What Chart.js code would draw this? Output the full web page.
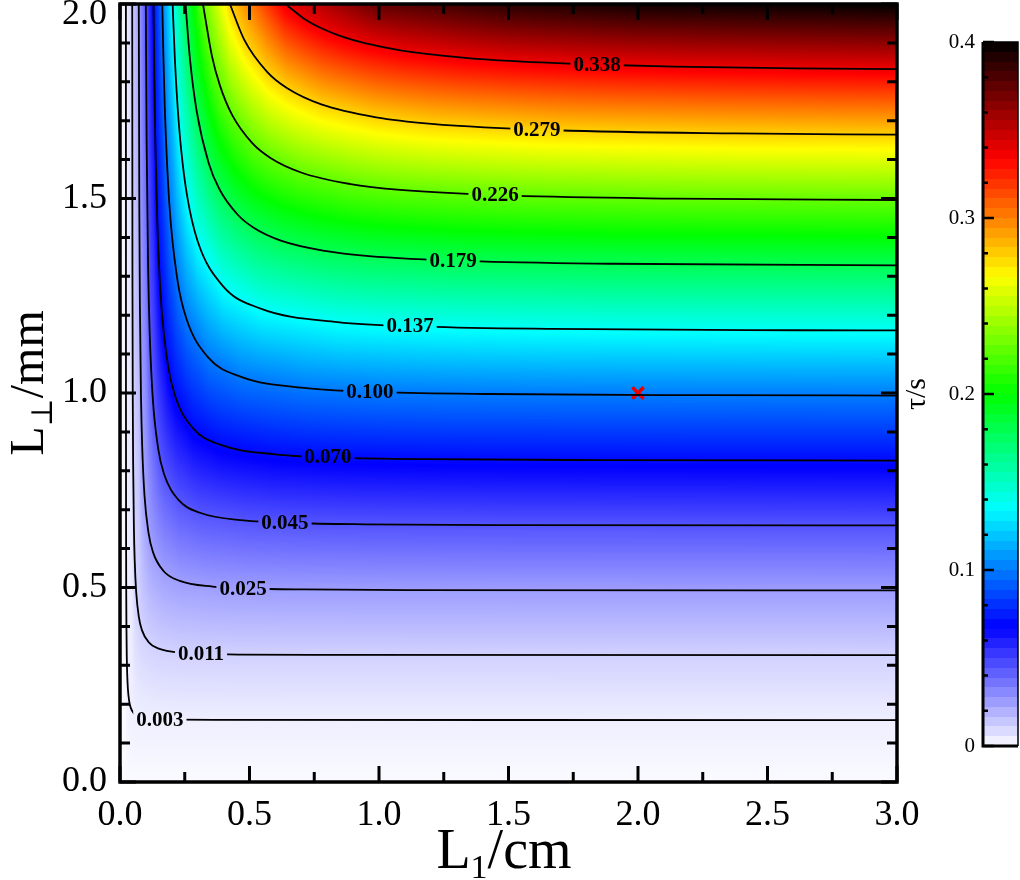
<!DOCTYPE html>
<html><head><meta charset="utf-8">
<script src="https://cdn.jsdelivr.net/npm/chart.js"></script>
<style>
html,body{margin:0;padding:0;background:#fff;}
#wrap{position:relative;width:1020px;height:880px;overflow:hidden;background:#fff;}
#main{position:absolute;left:0;top:0;}
#cbar{position:absolute;left:895px;top:0;}
</style></head><body>
<div id="wrap"><canvas id="main" width="1020" height="880"></canvas><canvas id="cbar" width="125" height="880"></canvas></div>
<script>
const FONT = "'Liberation Serif','Times New Roman','DejaVu Serif',serif";

// ---- contour levels (tau, s) and their labels ----
const levels = [0.003, 0.011, 0.025, 0.045, 0.070, 0.100, 0.137, 0.179, 0.226, 0.279, 0.338];
const levelLabels = ['0.003','0.011','0.025','0.045','0.070','0.100','0.137','0.179','0.226','0.279','0.338'];

// ---- contour lines: L1 (cm) and L_perp (mm) ----
const c003x = [0.02283, 0.02308, 0.02350, 0.02414, 0.02483, 0.02628, 0.02773, 0.03053, 0.03562, 0.04117, 0.05463, 0.07464, 0.11549, 0.16212, 0.22842, 0.36024, 3.0];
const c003y = [2.0, 0.9558, 0.6372, 0.4779, 0.3983, 0.3186, 0.2788, 0.2390, 0.2071, 0.1912, 0.1752, 0.1673, 0.1625, 0.1609, 0.1601, 0.1596, 0.1593];
const c011x = [0.04719, 0.04722, 0.04808, 0.04938, 0.05080, 0.05376, 0.05673, 0.06246, 0.07286, 0.08423, 0.11176, 0.15269, 0.23626, 0.33167, 0.46731, 0.73700, 3.0];
const c011y = [2.0, 1.9554, 1.3036, 0.9777, 0.8148, 0.6518, 0.5703, 0.4889, 0.4237, 0.3911, 0.3585, 0.3422, 0.3324, 0.3292, 0.3275, 0.3266, 0.3259];
const c025x = [0.07259, 0.07267, 0.07463, 0.07677, 0.08124, 0.08573, 0.09439, 0.11011, 0.12728, 0.16889, 0.23075, 0.35704, 0.50122, 0.70620, 1.11375, 3.0];
const c025y = [2.0, 1.9700, 1.4775, 1.2313, 0.9850, 0.8619, 0.7388, 0.6403, 0.5910, 0.5418, 0.5171, 0.5024, 0.4974, 0.4950, 0.4935, 0.4926];
const c045x = [0.09975, 0.09989, 0.10275, 0.10874, 0.11475, 0.12634, 0.14738, 0.17037, 0.22605, 0.30885, 0.47789, 0.67087, 0.94523, 1.49073, 3.0];
const c045y = [2.0, 1.9776, 1.6480, 1.3184, 1.1536, 0.9888, 0.8570, 0.7910, 0.7251, 0.6922, 0.6724, 0.6658, 0.6625, 0.6605, 0.6595];
const c070x = [0.12953, 0.13244, 0.13622, 0.14375, 0.15827, 0.18463, 0.21342, 0.28318, 0.38691, 0.59867, 0.84043, 1.18412, 1.86748, 3.0];
const c070y = [2.0, 1.8168, 1.6516, 1.4452, 1.2387, 1.0735, 0.9910, 0.9084, 0.8671, 0.8423, 0.8341, 0.8299, 0.8275, 0.8264];
const c100x = [0.16329, 0.16673, 0.17275, 0.19020, 0.22187, 0.25648, 0.34031, 0.46497, 0.71945, 1.00998, 1.42301, 2.24424, 3.0];
const c100y = [2.0, 1.8856, 1.7367, 1.4886, 1.2901, 1.1909, 1.0916, 1.0420, 1.0123, 1.0023, 0.9974, 0.9944, 0.9935];
const c137x = [0.20316, 0.21210, 0.22213, 0.23658, 0.25912, 0.29954, 0.39744, 0.54302, 0.84023, 1.17953, 1.66190, 2.62100, 3.0];
const c137y = [2.0, 1.8544, 1.7385, 1.6226, 1.5067, 1.3908, 1.2749, 1.2170, 1.1822, 1.1706, 1.1648, 1.1613, 1.1608];
const c179x = [0.25290, 0.27059, 0.29637, 0.34259, 0.38348, 0.45457, 0.51604, 0.62108, 0.79039, 0.96099, 1.34908, 1.90079, 3.0];
const c179y = [2.0, 1.8558, 1.7233, 1.5907, 1.5244, 1.4582, 1.4250, 1.3919, 1.3654, 1.3521, 1.3389, 1.3322, 1.3282];
const c226x = [0.32021, 0.35531, 0.38568, 0.43171, 0.51173, 0.58094, 0.69918, 0.88979, 1.08186, 1.51874, 2.13981, 3.0];
const c226y = [2.0, 1.8654, 1.7908, 1.7162, 1.6415, 1.6042, 1.5669, 1.5371, 1.5222, 1.5072, 1.4998, 1.4961];
const c279x = [0.42426, 0.47991, 0.56886, 0.64579, 0.77723, 0.98913, 1.20263, 1.68829, 2.37870, 3.0];
const c279y = [2.0, 1.9077, 1.8248, 1.7833, 1.7419, 1.7087, 1.6921, 1.6755, 1.6672, 1.6641];
const c338x = [0.63838, 0.71065, 0.78629, 0.85530, 0.94945, 1.08846, 1.32341, 1.52254, 1.85784, 2.14128, 2.61762, 3.0];
const c338y = [2.0, 1.9624, 1.9350, 1.9168, 1.8985, 1.8803, 1.8620, 1.8529, 1.8438, 1.8392, 1.8346, 1.8324];

// where each contour label sits (L1, cm)
const labelX = [0.154, 0.313, 0.475, 0.637, 0.803, 0.965, 1.120, 1.286, 1.448, 1.610, 1.842];

// tau along the top edge (L_perp = 2 mm) right of the last contour
const topEdgeX = [1.0, 1.5, 2.0, 3.0];
const topEdgeTau = [0.375, 0.390, 0.396, 0.400];

// marked working point
const markerX = [2.0];
const markerY = [1.0];

// tick labels
const xTickLabels = ['0.0','0.5','1.0','1.5','2.0','2.5','3.0'];
const yTickLabels = ['0.0','0.5','1.0','1.5','2.0'];
const cbTickLabels = ['0','0.1','0.2','0.3','0.4'];
const cbRange = [0, 0.4];

// colour map (tau -> rgb)
const cmapPos = [0, 0.0675, 0.135, 0.2, 0.2667, 0.3333, 0.4];
const cmapRGB = [[250,250,255],[0,0,255],[0,255,255],[0,255,0],[255,255,0],[255,0,0],[0,0,0]];

const contourXs = [c003x, c011x, c025x, c045x, c070x, c100x, c137x, c179x, c226x, c279x, c338x];
const contourYs = [c003y, c011y, c025y, c045y, c070y, c100y, c137y, c179y, c226y, c279y, c338y];

function cmap(t) {
  if (t <= cmapPos[0]) return cmapRGB[0];
  const n = cmapPos.length;
  if (t >= cmapPos[n-1]) return cmapRGB[n-1];
  let i = 1; while (cmapPos[i] < t) i++;
  const f = (t - cmapPos[i-1]) / (cmapPos[i] - cmapPos[i-1]);
  const a = cmapRGB[i-1], b = cmapRGB[i];
  return [a[0]+(b[0]-a[0])*f, a[1]+(b[1]-a[1])*f, a[2]+(b[2]-a[2])*f];
}
function rgbStr(c){ return `rgb(${Math.round(c[0])},${Math.round(c[1])},${Math.round(c[2])})`; }

function interp(xs, ys, X) {
  if (X <= xs[0]) return ys[0];
  const n = xs.length;
  if (X >= xs[n-1]) return ys[n-1];
  let lo = 0, hi = n-1;
  while (hi - lo > 1) { const m = (lo+hi)>>1; if (xs[m] <= X) lo = m; else hi = m; }
  const t = (X - xs[lo]) / (xs[hi] - xs[lo]);
  return ys[lo] + t*(ys[hi]-ys[lo]);
}
function contourYAt(k, X) {
  if (X < contourXs[k][0]) return null;
  return interp(contourXs[k], contourYs[k], X);
}
const topXs = [0].concat(contourXs.map(c => c[0]), topEdgeX);
const topTs = [0].concat(levels, topEdgeTau);
function topTauAt(X){ return interp(topXs, topTs, X); }

const LABEL_FONT = `bold 21px ${FONT}`;
function labelGeom(chart) {
  const {ctx, scales:{x, y}} = chart;
  ctx.save();
  ctx.font = LABEL_FONT;
  const out = levels.map((lv, k) => {
    const X = labelX[k];
    const Y = contourYAt(k, X);
    return {px: x.getPixelForValue(X), py: y.getPixelForValue(Y), w: ctx.measureText(levelLabels[k]).width, text: levelLabels[k]};
  });
  ctx.restore();
  return out;
}

const heatPlugin = {
  id: 'heat',
  beforeDatasetsDraw(chart) {
    const {ctx, chartArea: a, scales: {x, y}} = chart;
    const L = Math.round(a.left), T = Math.round(a.top);
    const W = Math.round(a.right) - L, H = Math.round(a.bottom) - T;
    const img = ctx.createImageData(W, H);
    const d = img.data;
    const rowY = new Float64Array(H);
    for (let j = 0; j < H; j++) rowY[j] = y.getValueForPixel(T + j + 0.5);
    const nY = [], nT = [];
    for (let i = 0; i < W; i++) {
      const X = Math.max(0, x.getValueForPixel(L + i + 0.5));
      nY.length = 0; nT.length = 0;
      nY.push(0); nT.push(0);
      for (let k = 0; k < levels.length; k++) {
        const yy = contourYAt(k, X);
        if (yy !== null && yy < 2 && yy > nY[nY.length-1]) { nY.push(yy); nT.push(levels[k]); }
      }
      nY.push(2); nT.push(Math.max(topTauAt(X), nT[nT.length-1]));
      const n = nY.length;
      for (let j = 0; j < H; j++) {
        const Y = Math.min(2, Math.max(0, rowY[j]));
        let m = 1; while (m < n-1 && nY[m] < Y) m++;
        const y0 = nY[m-1], y1 = nY[m];
        const tau = y1 > y0 ? nT[m-1] + (nT[m]-nT[m-1]) * (Y - y0) / (y1 - y0) : nT[m];
        const c = cmap(tau);
        const o = (j*W + i) * 4;
        d[o] = c[0]; d[o+1] = c[1]; d[o+2] = c[2]; d[o+3] = 255;
      }
    }
    ctx.putImageData(img, L, T);
    // keep contour lines out of the label boxes
    const g = labelGeom(chart);
    ctx.save();
    ctx.beginPath();
    ctx.rect(0, 0, chart.width, chart.height);
    for (const b of g) ctx.rect(b.px - b.w/2 - 3, b.py - 9, b.w + 6, 18);
    ctx.clip('evenodd');
  },
  afterDatasetsDraw(chart) {
    const {ctx, chartArea: a, scales: {x, y}} = chart;
    ctx.restore();
    // contour labels
    const g = labelGeom(chart);
    ctx.save();
    ctx.font = LABEL_FONT;
    ctx.fillStyle = '#000'; ctx.textAlign = 'center'; ctx.textBaseline = 'middle';
    for (const b of g) ctx.fillText(b.text, b.px, b.py + 1);
    ctx.restore();
    // frame and inward ticks
    ctx.save();
    ctx.strokeStyle = '#000'; ctx.lineWidth = 3; ctx.lineCap = 'butt';
    ctx.beginPath();
    for (let i = 0; i <= 12; i++) {
      const px = x.getPixelForValue(i * 0.25), len = (i % 2 === 0) ? 16 : 10;
      ctx.moveTo(px, a.bottom); ctx.lineTo(px, a.bottom - len);
      ctx.moveTo(px, a.top); ctx.lineTo(px, a.top + len);
    }
    for (let i = 0; i <= 20; i++) {
      const py = y.getPixelForValue(i * 0.1), len = (i % 5 === 0) ? 16 : 10;
      ctx.moveTo(a.left, py); ctx.lineTo(a.left + len, py);
      ctx.moveTo(a.right, py); ctx.lineTo(a.right - len, py);
    }
    ctx.stroke();
    ctx.lineWidth = 3.5;
    ctx.strokeRect(a.left, a.top, a.right - a.left, a.bottom - a.top);
    ctx.restore();
  },
  beforeDraw(chart) {
    // move the top y label ("2.0") down so it stays inside the page
    const ys = chart.scales.y;
    if (ys && ys.getLabelItems) {
      const items = ys.getLabelItems();
      for (const it of items) {
        if (it.label === '2.0' && !it._moved) { it.options.translation[1] += 11; it._moved = true; }
      }
    }
  },
  afterDraw(chart) {
    const {ctx} = chart;
    drawTitle(ctx, [{text:'L', size:48, dy:0}, {text:'\u22A5', size:30, dy:9}, {text:'/mm', size:48, dy:0}], 27, 383, -Math.PI/2);
    drawTitle(ctx, [{text:'L', size:56, dy:0}, {text:'1', size:34, dy:10}, {text:'/cm', size:56, dy:0}], 504, 850, 0);
  }
};

function drawTitle(ctx, parts, cx, cy, rot) {
  ctx.save();
  ctx.translate(cx, cy); ctx.rotate(rot);
  ctx.fillStyle = '#000'; ctx.textBaseline = 'alphabetic'; ctx.textAlign = 'left';
  let total = 0;
  const widths = parts.map(p => { ctx.font = `${p.size}px ${FONT}`; const w = ctx.measureText(p.text).width; total += w; return w; });
  let xx = -total / 2;
  const base = parts[0].size * 0.33;
  parts.forEach((p, i) => { ctx.font = `${p.size}px ${FONT}`; ctx.fillText(p.text, xx, base + p.dy); xx += widths[i]; });
  ctx.restore();
}

const lineSets = levels.map((lv, k) => ({
  label: levelLabels[k],
  data: contourXs[k].map((v, i) => ({x: v, y: contourYs[k][i]})),
  showLine: true, pointRadius: 0, borderColor: '#000', borderWidth: 1.8,
  cubicInterpolationMode: 'monotone', fill: false
}));
lineSets.push({
  label: 'marker',
  data: markerX.map((v, i) => ({x: v, y: markerY[i]})),
  showLine: false, pointStyle: 'crossRot', pointRadius: 8, pointBorderWidth: 3.5,
  pointBorderColor: 'rgb(235,0,0)', borderColor: 'rgb(235,0,0)', backgroundColor: 'rgb(235,0,0)'
});

new Chart(document.getElementById('main'), {
  type: 'scatter',
  data: { datasets: lineSets },
  plugins: [heatPlugin],
  options: {
    responsive: false, animation: false, events: [],
    layout: { autoPadding: false, padding: { top: 4, right: 123, left: 0, bottom: 0 } },
    plugins: { legend: { display: false }, tooltip: { enabled: false } },
    scales: {
      x: {
        type: 'linear', min: 0, max: 3,
        border: { display: false }, grid: { display: false, drawTicks: false },
        ticks: { stepSize: 0.5, autoSkip: false, maxRotation: 0, padding: 12, color: '#000',
                 font: { family: FONT, size: 36 }, callback: (v, i) => xTickLabels[i] },
        afterFit: s => { s.height = 98; s.paddingLeft = 0; s.paddingRight = 0; }
      },
      y: {
        type: 'linear', min: 0, max: 2,
        border: { display: false }, grid: { display: false, drawTicks: false },
        ticks: { stepSize: 0.5, autoSkip: false, padding: 13, color: '#000',
                 font: { family: FONT, size: 36 }, callback: (v, i) => yTickLabels[i] },
        afterFit: s => { s.width = 120; s.paddingTop = 0; s.paddingBottom = 0; }
      }
    }
  }
});

// ---- colour bar ----
const cbPlugin = {
  id: 'cbframe',
  afterDatasetsDraw(chart) {
    const {ctx, chartArea: a, scales: {y}} = chart;
    ctx.save();
    ctx.strokeStyle = '#000'; ctx.lineWidth = 2.5;
    ctx.beginPath();
    for (let i = 0; i <= 20; i++) {
      const py = y.getPixelForValue(i * 0.02), len = (i % 5 === 0) ? 11 : 5;
      ctx.moveTo(a.left, py); ctx.lineTo(a.left + len, py);
    }
    ctx.stroke();
    ctx.lineWidth = 3;
    ctx.beginPath();
    ctx.moveTo(a.left, a.top); ctx.lineTo(a.left, a.bottom); ctx.lineTo(a.right, a.bottom);
    ctx.stroke();
    ctx.lineWidth = 1.5;
    ctx.beginPath();
    ctx.moveTo(a.left, a.top); ctx.lineTo(a.right, a.top); ctx.lineTo(a.right, a.bottom);
    ctx.stroke();
    ctx.restore();
  }
};

function cbGradient(context) {
  const chart = context.chart;
  const a = chart.chartArea;
  if (!a) return 'rgba(0,0,0,0)';
  const ys = chart.scales.y;
  const y0 = ys.getPixelForValue(cbRange[0]), y1 = ys.getPixelForValue(cbRange[1]);
  const g = chart.ctx.createLinearGradient(0, y0, 0, y1);
  const N = 72;
  for (let i = 0; i < N; i++) {
    const c = rgbStr(cmap(cbRange[0] + (cbRange[1]-cbRange[0]) * (i + 0.5) / N));
    g.addColorStop(i / N, c);
    g.addColorStop((i + 1) / N, c);
  }
  return g;
}

new Chart(document.getElementById('cbar'), {
  type: 'bar',
  data: { labels: ['\u03C4'], datasets: [{ data: [cbRange], backgroundColor: cbGradient, borderWidth: 0,
          barPercentage: 1, categoryPercentage: 1 }] },
  plugins: [cbPlugin],
  options: {
    responsive: false, animation: false, events: [],
    layout: { autoPadding: false, padding: { top: 42, bottom: 134, right: 2, left: 0 } },
    plugins: { legend: { display: false }, tooltip: { enabled: false } },
    scales: {
      x: { display: false },
      y: {
        min: 0, max: 0.4,
        border: { display: false }, grid: { display: false, drawTicks: false },
        ticks: { stepSize: 0.02, autoSkip: false, padding: 8, color: '#000', font: { family: FONT, size: 21 },
                 callback: (v, i) => (i % 5 === 0 ? cbTickLabels[i / 5] : '') },
        title: { display: true, text: '\u03C4/s', color: '#000', font: { family: FONT, size: 30 }, padding: { top: 4, bottom: 0 } },
        afterFit: s => { s.width = 88; s.paddingTop = 0; s.paddingBottom = 0; }
      }
    }
  }
});
</script>
</body></html>
